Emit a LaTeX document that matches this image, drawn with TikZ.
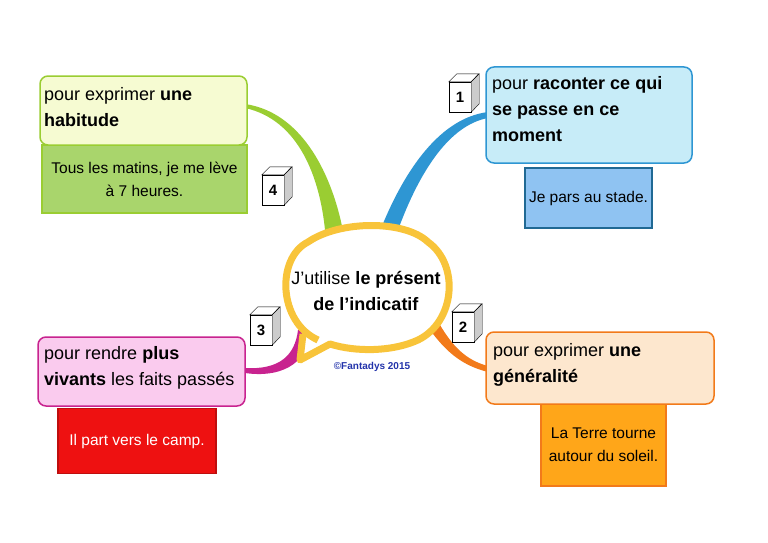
\documentclass[tikz,border=0pt]{standalone}
\usepackage{fontspec}
\setmainfont{Liberation Sans}
\begin{document}
\begin{tikzpicture}[x=1pt,y=-1pt,
  ex/.style={line width=1.2pt,align=center,font=\fontsize{15.5}{23}\selectfont},
  tt/.style={anchor=north west,align=left,inner sep=0pt,font=\fontsize{18}{26}\selectfont},
  cubenum/.style={draw,fill=white,minimum width=22pt,minimum height=30pt,inner sep=0pt,font=\bfseries\fontsize{15}{15}\selectfont}]
\useasboundingbox (0,0) rectangle (768,543);
\definecolor{gB}{HTML}{9ACD32}\definecolor{gL}{HTML}{F6FBD2}\definecolor{gM}{HTML}{A9D56C}
\definecolor{bB}{HTML}{2E96D3}\definecolor{bL}{HTML}{C7ECF8}\definecolor{bM}{HTML}{8FC3F2}
\definecolor{pB}{HTML}{C8238F}\definecolor{pL}{HTML}{FACBEE}\definecolor{rM}{HTML}{EE1111}
\definecolor{oB}{HTML}{F27A1A}\definecolor{oL}{HTML}{FDE7CE}\definecolor{oM}{HTML}{FFA619}
\definecolor{yB}{HTML}{F8C43A}\definecolor{fan}{HTML}{2233AA}
% branches
\fill[gB] (245,108) .. controls (300,120) and (320,180) .. (325,230) -- (342,226) .. controls (330,170) and (300,112) .. (245,104) -- cycle;
\fill[bB] (398,230) .. controls (420,170) and (450,125) .. (488,118) -- (488,112) .. controls (440,118) and (405,170) .. (382,226) -- cycle;
\fill[pB] (245,368) .. controls (280,370) and (295,355) .. (298,330) -- (312,334) .. controls (305,365) and (280,378) .. (245,373) -- cycle;
\fill[oB] (430,330) .. controls (445,350) and (460,365) .. (488,372) -- (488,366) .. controls (465,360) and (452,345) .. (440,325) -- cycle;
% bubble
\draw[yB,line width=7pt,fill=white,line join=round] (318,340) .. controls (278,322) and (276,258) .. (308,242) .. controls (340,220) and (405,220) .. (428,242) .. controls (460,265) and (455,322) .. (418,340) .. controls (392,352) and (355,352) .. (330,344) -- (300,360) -- (303,334);
\node[align=center,font=\fontsize{18}{26}\selectfont] (c) at (366,291) {J'utilise \textbf{le présent}\\ \textbf{de l'indicatif}};
\node[text=fan,font=\bfseries\fontsize{10}{11}\selectfont] (cp) at (372,367) {©Fantadys 2015};
% green
\node[ex,draw=gB,fill=gM,minimum width=205pt,minimum height=68pt] (ge) at (144.5,179) {Tous les matins, je me lève\\ à 7 heures.};
\draw[gB,fill=gL,line width=1.5pt,rounded corners=8pt] (40,76) rectangle (247,145);
\node[tt] (gt) at (44,87) {pour exprimer \textbf{une}\\ \textbf{habitude}};
% blue
\draw[bB,fill=bL,line width=1.5pt,rounded corners=8pt] (486,67) rectangle (692,163);
\node[tt] (bt) at (492,76) {pour \textbf{raconter ce qui}\\ \textbf{se passe en ce}\\ \textbf{moment}};
\node[ex,draw=bB!70!black,fill=bM,minimum width=127pt,minimum height=60pt] (be) at (588.5,198) {Je pars au stade.};
% pink
\draw[pB,fill=pL,line width=1.5pt,rounded corners=8pt] (38,337) rectangle (245,406);
\node[tt] (pt) at (44,346) {pour rendre \textbf{plus}\\ \textbf{vivants} les faits passés};
\node[ex,draw=rM!80!black,fill=rM,text=white,minimum width=158pt,minimum height=65pt] (re) at (137,441) {Il part vers le camp.};
% orange
\node[ex,draw=oB,fill=oM,minimum width=125pt,minimum height=82pt] (oe) at (603.5,445) {La Terre tourne\\ autour du soleil.};
\draw[oB,fill=oL,line width=1.5pt,rounded corners=8pt] (486,332) rectangle (714,404);
\node[tt] (ot) at (493,343) {pour exprimer \textbf{une}\\ \textbf{généralité}};
% cubes
\foreach \n/\x/\y in {1/460/97,4/273/190,3/261/330,2/463/327}{
  \node[cubenum] (k\n) at (\x,\y) {\n};
  \draw[fill=white] (k\n.north west) -- ++(8,-8) -- ++(22,0) -- (k\n.north east) -- cycle;
  \draw[fill=gray!40] (k\n.north east) -- ++(8,-8) -- ++(0,30) -- (k\n.south east) -- cycle;
}
\end{tikzpicture}
\end{document}
